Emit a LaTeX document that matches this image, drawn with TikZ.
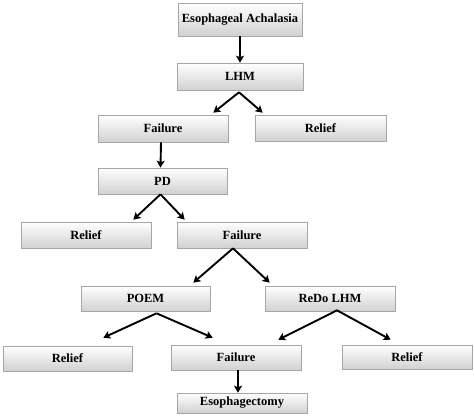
\documentclass[tikz,border=0pt]{standalone}
\usepackage{fontspec}
\setmainfont{Liberation Serif}
\usetikzlibrary{arrows.meta,shadows,calc}
\tikzset{
  box/.style={draw=black!35, line width=0.6pt, top color=white, bottom color=black!18,
    drop shadow={opacity=0.35, shadow xshift=1.2pt, shadow yshift=-1.2pt},
    font=\fontsize{12.5}{14}\selectfont\bfseries, inner sep=0pt},
  arr/.style={line width=1.9pt, -{Stealth[length=7pt,width=8pt,inset=1.5pt]}, line join=miter}
}
\newcommand{\bx}[6]{\node[box, minimum width=#4-#2, minimum height=#5-#3] (#1) at ({(#2+#4)/2},{(#3+#5)/2}) {#6};}
\begin{document}
\begin{tikzpicture}[x=1pt,y=-1pt]
\useasboundingbox (0,0) rectangle (474,416);
\bx{ea}{178}{3}{302}{36}{Esophageal Achalasia}
\bx{lhm}{177}{63}{303}{90}{LHM}
\bx{f1}{98}{115}{228}{142}{Failure}
\bx{r1}{255}{115}{386}{141}{Relief}
\bx{pd}{98}{168}{227}{194}{PD}
\bx{r2}{21}{222}{151}{248}{Relief}
\bx{f2}{177}{222}{307}{248}{Failure}
\bx{poem}{81}{286}{210}{311}{POEM}
\bx{redo}{265}{286}{395}{311}{ReDo LHM}
\bx{r3}{3}{346}{132}{371}{Relief}
\bx{f3}{171}{345}{301}{370}{Failure}
\bx{r4}{342}{345}{472}{369}{Relief}
\bx{eso}{177}{393}{307}{413}{Esophagectomy}
% connectors
\draw[arr] (ea.south) -- (lhm.north);
\coordinate (a1) at ($(lhm.south)+(-1,2)$);
\draw[arr] (a1) -- ($(f1.north east)+(-15,-2)$);
\draw[arr] (a1) -- ($(r1.north west)+(8,-2)$);
\draw[arr] ($(f1.south)+(-2,0)$) -- ($(pd.north)+(-2,0)$);
\coordinate (a2) at ($(pd.south)+(-2,0)$);
\draw[arr] (a2) -- ($(r2.north east)+(-18,-2)$);
\draw[arr] (a2) -- ($(f2.north west)+(8,-2)$);
\coordinate (a3) at ($(f2.south)+(-9,0)$);
\draw[arr] (a3) -- ($(poem.north east)+(-17,-3)$);
\draw[arr] (a3) -- ($(redo.north west)+(5,-3)$);
\coordinate (a4) at ($(poem.south)+(11,2)$);
\draw[arr] (a4) -- ($(r3.north east)+(-29,-8)$);
\draw[arr] (a4) -- ($(f3.north west)+(42,-7)$);
\coordinate (a5) at ($(redo.south)+(7,-1)$);
\draw[arr] (a5) -- ($(f3.north east)+(-23,-5)$);
\draw[arr] (a5) -- ($(r4.north west)+(49,-5)$);
\draw[arr] ($(f3.south)+(2,0)$) -- ($(eso.north)+(-4,0)$);
\end{tikzpicture}
\end{document}
